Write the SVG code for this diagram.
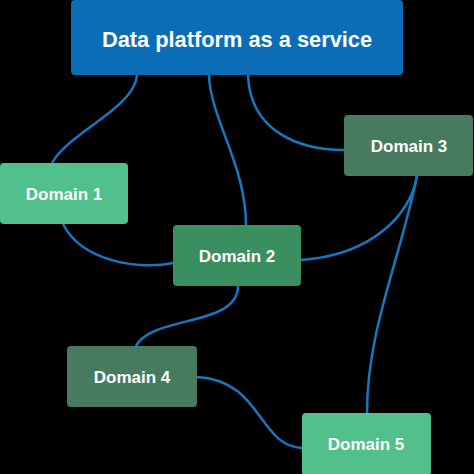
<svg xmlns="http://www.w3.org/2000/svg" width="474" height="474" viewBox="0 0 474 474">
<style>
.bg{fill:#000}
.edge{fill:none;stroke:#1679c0;stroke-width:2.5}
.lbl{font-family:"Liberation Sans",Arial,sans-serif;font-weight:bold;fill:#fff;text-anchor:middle}
.t{font-size:21.8px}
.d{font-size:17px}
.light{fill:#52c08a}
.mid{fill:#3a8f5f}
.dark{fill:#477a5e}
</style>
<rect class="bg" x="0" y="0" width="474" height="474"/>
<g id="connectors">
<path class="edge" d="M137,75 C135,108 68,133 52,163"/>
<path class="edge" d="M209,75 C210,118 246,165 246,225"/>
<path class="edge" d="M248,75 C250,132 300,150 344,150"/>
<path class="edge" d="M63,224 C82,262 140,270 173,263"/>
<path class="edge" d="M301,260 C372,255 410,215 417,176"/>
<path class="edge" d="M417,176 C400,260 367,330 367,413"/>
<path class="edge" d="M238,286 C238,327 152,315 136,346"/>
<path class="edge" d="M197,377 C262,380 258,446 302,448"/>
</g>
<g id="platform">
<rect x="71" y="0" width="332" height="75" rx="4" fill="#0a6db5"/>
<text class="lbl t" x="237" y="47">Data platform as a service</text>
</g>
<g id="domain1">
<rect class="light" x="0" y="163" width="128" height="61" rx="4"/>
<text class="lbl d" x="64" y="200">Domain 1</text>
</g>
<g id="domain2">
<rect class="mid" x="173" y="225" width="128" height="61" rx="4"/>
<text class="lbl d" x="237" y="262">Domain 2</text>
</g>
<g id="domain3">
<rect class="dark" x="344" y="115" width="129" height="61" rx="4"/>
<text class="lbl d" x="409" y="152">Domain 3</text>
</g>
<g id="domain4">
<rect class="dark" x="67" y="346" width="130" height="61" rx="4"/>
<text class="lbl d" x="132" y="383">Domain 4</text>
</g>
<g id="domain5">
<rect class="light" x="302" y="413" width="129" height="63" rx="4"/>
<text class="lbl d" x="366" y="450">Domain 5</text>
</g>
</svg>
